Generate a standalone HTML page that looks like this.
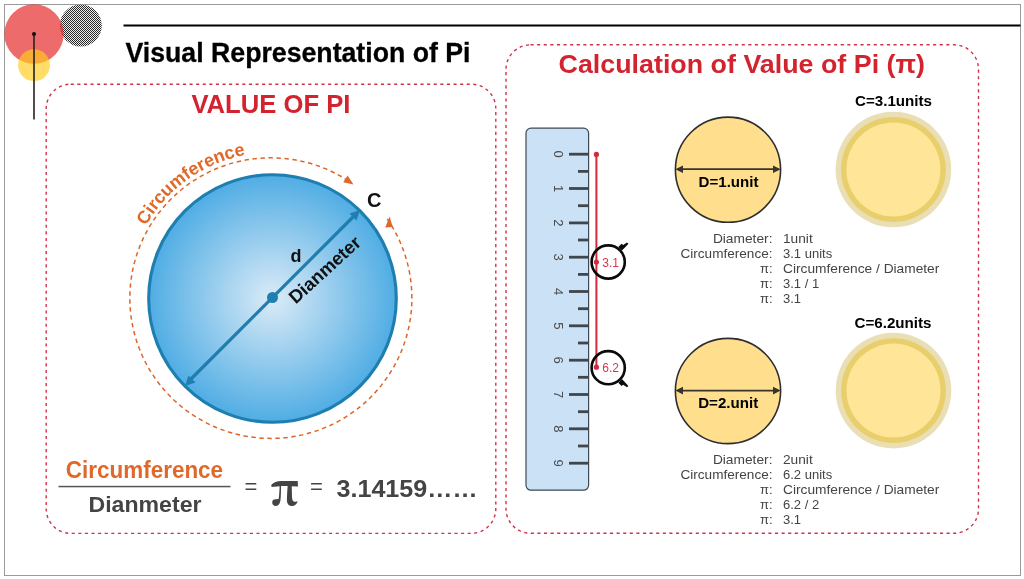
<!DOCTYPE html>
<html lang="en">
<head>
<meta charset="utf-8">
<title>Visual Representation of Pi</title>
<style>
html,body{margin:0;padding:0;background:#fff;}
body{width:1024px;height:579px;overflow:hidden;font-family:"Liberation Sans",sans-serif;}
svg{display:block;}
.b{font-family:"Liberation Sans",sans-serif;font-weight:bold;}
.r{font-family:"Liberation Sans",sans-serif;font-weight:normal;}
</style>
</head>
<body>
<svg width="1024" height="579" viewBox="0 0 1024 579">
<defs>
<pattern id="hatch" width="2" height="2" patternUnits="userSpaceOnUse">
<rect x="0" y="0" width="2" height="2" fill="#ececec"/>
<rect x="0" y="0" width="1" height="1" fill="#2a2a2a"/>
<rect x="1" y="1" width="1" height="1" fill="#2a2a2a"/>
</pattern>
<radialGradient id="blue" cx="50%" cy="50%" r="50%">
<stop offset="0" stop-color="#dbebf7"/>
<stop offset="1" stop-color="#50ade4"/>
</radialGradient>
</defs>
<rect x="0" y="0" width="1024" height="579" fill="#ffffff"/>
<rect x="4.5" y="4.5" width="1016" height="571" fill="none" stroke="#9a9a9a" stroke-width="1"/>

<!-- header decoration -->
<circle cx="80.8" cy="25.5" r="21" fill="url(#hatch)"/>
<circle cx="34" cy="34" r="29.7" fill="#e83232" fill-opacity="0.72"/>
<circle cx="34" cy="65.2" r="15.9" fill="#ffcd1e" fill-opacity="0.68"/>
<line x1="34" y1="34" x2="34" y2="119.5" stroke="#222" stroke-width="1.6"/>
<circle cx="34" cy="34" r="2" fill="#111"/>
<rect x="123.5" y="24.5" width="897" height="2" fill="#000"/>
<text class="b" x="125.5" y="61.6" font-size="27" fill="#000" stroke="#000" stroke-width="0.3" textLength="345" lengthAdjust="spacingAndGlyphs">Visual Representation of Pi</text>

<!-- left panel -->
<rect x="46.2" y="84.2" width="449.6" height="449.2" rx="24.5" ry="24.5" fill="none" stroke="#cf3348" stroke-width="1.4" stroke-dasharray="3.1 3.5"/>
<text class="b" x="191.4" y="113.2" font-size="25.6" fill="#d3232e" textLength="159" lengthAdjust="spacingAndGlyphs">VALUE OF PI</text>

<!-- big circle -->
<circle cx="272.5" cy="298.5" r="123.8" fill="url(#blue)" stroke="#1e7eaf" stroke-width="3.1"/>
<!-- dashed orbit -->
<path id="orbit" d="M 387.3 219.0 A 141 140.3 0 1 1 351.1 182.75" fill="none" stroke="#dc6628" stroke-width="1.5" stroke-dasharray="4.4 3.6"/>
<polygon points="353.5,184.6 343.2,182.2 347.6,175.6" fill="#e0692a"/>
<polygon points="389.6,216.6 392.8,227.0 385.2,227.6" fill="#e0692a"/>
<path id="circpath" d="M 145.8 225.9 A 146 146 0 0 1 272.5 152.5" fill="none"/>
<text class="b" font-size="18" fill="#e0692a"><textPath href="#circpath" startOffset="0">Circumference</textPath></text>

<!-- diameter -->
<line x1="191" y1="379" x2="354" y2="216" stroke="#1e7eaf" stroke-width="3.2"/>
<polygon points="360,210 349.5,213.5 356.5,220.5" fill="#1f7fb0"/>
<polygon points="185,386 195.5,382.5 188.5,375.5" fill="#1f7fb0"/>
<circle cx="272.5" cy="297.5" r="5.5" fill="#1f7fb0"/>
<text class="b" x="367" y="207.3" font-size="20" fill="#111">C</text>
<text class="b" x="290.5" y="261.7" font-size="18" fill="#111">d</text>
<text class="b" transform="translate(295.7,304.6) rotate(-42.3)" x="0" y="0" font-size="18.4" fill="#111">Dianmeter</text>

<!-- formula -->
<text class="b" x="65.8" y="478" font-size="23" fill="#e0692a" textLength="157.3" lengthAdjust="spacingAndGlyphs">Circumference</text>
<rect x="58.5" y="485.8" width="172" height="1.5" fill="#555"/>
<text class="b" x="88.5" y="511.6" font-size="21.8" fill="#444" textLength="113" lengthAdjust="spacingAndGlyphs">Dianmeter</text>
<text class="r" x="244.5" y="494" font-size="22" fill="#444">=</text>
<text transform="translate(270.5,504.9) scale(0.943,1)" x="0" y="0" font-size="43.7" fill="#444" font-family="'Noto Serif CJK SC','Liberation Serif',serif" font-weight="900">π</text>
<text class="r" x="310" y="494" font-size="22" fill="#444">=</text>
<text class="b" x="336.5" y="496.8" font-size="24" fill="#444" textLength="141" lengthAdjust="spacingAndGlyphs">3.14159……</text>

<!-- right panel -->
<rect x="506" y="44.8" width="472.5" height="488.5" rx="24.5" ry="24.5" fill="none" stroke="#cf3348" stroke-width="1.4" stroke-dasharray="3.1 3.5"/>
<text class="b" x="558.5" y="73.3" font-size="25.9" fill="#d3232e" textLength="366.5" lengthAdjust="spacingAndGlyphs">Calculation of Value of Pi (π)</text>

<!-- ruler -->
<rect x="526" y="128.2" width="62.6" height="362" rx="5" ry="5" fill="#cbe2f6" stroke="#3e4852" stroke-width="1.2"/>
<g stroke="#40464c" stroke-width="2.8">
<line x1="569" y1="154.2" x2="589" y2="154.2"/>
<line x1="578" y1="171.4" x2="589" y2="171.4"/>
<line x1="569" y1="188.5" x2="589" y2="188.5"/>
<line x1="578" y1="205.7" x2="589" y2="205.7"/>
<line x1="569" y1="222.9" x2="589" y2="222.9"/>
<line x1="578" y1="240.0" x2="589" y2="240.0"/>
<line x1="569" y1="257.2" x2="589" y2="257.2"/>
<line x1="578" y1="274.4" x2="589" y2="274.4"/>
<line x1="569" y1="291.5" x2="589" y2="291.5"/>
<line x1="578" y1="308.7" x2="589" y2="308.7"/>
<line x1="569" y1="325.8" x2="589" y2="325.8"/>
<line x1="578" y1="343.0" x2="589" y2="343.0"/>
<line x1="569" y1="360.2" x2="589" y2="360.2"/>
<line x1="578" y1="377.3" x2="589" y2="377.3"/>
<line x1="569" y1="394.5" x2="589" y2="394.5"/>
<line x1="578" y1="411.7" x2="589" y2="411.7"/>
<line x1="569" y1="428.8" x2="589" y2="428.8"/>
<line x1="578" y1="446.0" x2="589" y2="446.0"/>
<line x1="569" y1="463.2" x2="589" y2="463.2"/>
</g>
<g class="r" font-size="13" fill="#4a4a4a">
<text transform="translate(553.6,154.2) rotate(90)" text-anchor="middle">0</text>
<text transform="translate(553.6,188.5) rotate(90)" text-anchor="middle">1</text>
<text transform="translate(553.6,222.9) rotate(90)" text-anchor="middle">2</text>
<text transform="translate(553.6,257.2) rotate(90)" text-anchor="middle">3</text>
<text transform="translate(553.6,291.5) rotate(90)" text-anchor="middle">4</text>
<text transform="translate(553.6,325.8) rotate(90)" text-anchor="middle">5</text>
<text transform="translate(553.6,360.2) rotate(90)" text-anchor="middle">6</text>
<text transform="translate(553.6,394.5) rotate(90)" text-anchor="middle">7</text>
<text transform="translate(553.6,428.8) rotate(90)" text-anchor="middle">8</text>
<text transform="translate(553.6,463.2) rotate(90)" text-anchor="middle">9</text>
</g>
<!-- red measure line -->
<line x1="596.4" y1="154.2" x2="596.4" y2="367" stroke="#d42a3c" stroke-width="2"/>
<circle cx="596.4" cy="154.4" r="2.6" fill="#d42a3c"/>
<circle cx="596.4" cy="262" r="2.6" fill="#d42a3c"/>
<circle cx="596.4" cy="367.2" r="2.6" fill="#d42a3c"/>
<!-- magnifiers -->
<circle cx="608.2" cy="262" r="16.6" fill="none" stroke="#0a0a0a" stroke-width="2.6"/>
<polygon points="618.3,247.0 621.9,250.6 625.2,247.3 628.4,243.8 627.0,242.4 623.2,245.0 621.6,243.7" fill="#0a0a0a"/>
<text class="r" x="602.3" y="266.6" font-size="12" fill="#d8364a">3.1</text>
<circle cx="608.2" cy="367.7" r="16.6" fill="none" stroke="#0a0a0a" stroke-width="2.6"/>
<polygon points="618.3,382.7 621.9,379.1 625.2,382.4 628.4,385.9 627.0,387.3 623.2,384.7 621.6,386.0" fill="#0a0a0a"/>
<text class="r" x="602.3" y="372.3" font-size="12" fill="#d8364a">6.2</text>

<!-- circles group 1 -->
<circle cx="728" cy="169.7" r="52.6" fill="#ffde8e" stroke="#2e2e2e" stroke-width="1.6"/>
<line x1="681" y1="169.2" x2="775" y2="169.2" stroke="#38342c" stroke-width="1.7"/>
<polygon points="675.3,169.2 683,165.4 683,173" fill="#38342c"/>
<polygon points="780.7,169.2 773,165.4 773,173" fill="#38342c"/>
<text class="b" x="698.5" y="186.6" font-size="15" fill="#000" textLength="60" lengthAdjust="spacingAndGlyphs">D=1.unit</text>
<circle cx="893.4" cy="169.5" r="57.8" fill="#eadeb5"/>
<circle cx="893.4" cy="169.5" r="52.4" fill="#e8cf6c"/>
<circle cx="893.4" cy="169.5" r="47" fill="#ffe598"/>
<text class="b" x="855" y="105.9" font-size="15" fill="#000" textLength="77" lengthAdjust="spacingAndGlyphs">C=3.1units</text>

<g class="r" font-size="13" fill="#444">
<text x="772.5" y="242.9" text-anchor="end" textLength="59.6" lengthAdjust="spacingAndGlyphs">Diameter:</text>
<text x="772.5" y="258.0" text-anchor="end" textLength="92" lengthAdjust="spacingAndGlyphs">Circumference:</text>
<text x="772.5" y="272.9" text-anchor="end">π:</text>
<text x="772.5" y="287.9" text-anchor="end">π:</text>
<text x="772.5" y="302.9" text-anchor="end">π:</text>
<text x="783" y="242.9" textLength="29.7" lengthAdjust="spacingAndGlyphs">1unit</text>
<text x="783" y="258.0">3.1 units</text>
<text x="783" y="272.9" textLength="156.3" lengthAdjust="spacingAndGlyphs">Circumference / Diameter</text>
<text x="783" y="287.9">3.1 / 1</text>
<text x="783" y="302.9">3.1</text>
</g>

<!-- circles group 2 -->
<circle cx="728" cy="391" r="52.6" fill="#ffde8e" stroke="#2e2e2e" stroke-width="1.6"/>
<line x1="681" y1="390.6" x2="775" y2="390.6" stroke="#38342c" stroke-width="1.7"/>
<polygon points="675.3,390.6 683,386.8 683,394.4" fill="#38342c"/>
<polygon points="780.7,390.6 773,386.8 773,394.4" fill="#38342c"/>
<text class="b" x="698.2" y="408.4" font-size="15" fill="#000" textLength="60" lengthAdjust="spacingAndGlyphs">D=2.unit</text>
<circle cx="893.5" cy="390.6" r="57.8" fill="#eadeb5"/>
<circle cx="893.5" cy="390.6" r="52.4" fill="#e8cf6c"/>
<circle cx="893.5" cy="390.6" r="47" fill="#ffe598"/>
<text class="b" x="854.5" y="327.5" font-size="15" fill="#000" textLength="77" lengthAdjust="spacingAndGlyphs">C=6.2units</text>

<g class="r" font-size="13" fill="#444">
<text x="772.5" y="464.0" text-anchor="end" textLength="59.6" lengthAdjust="spacingAndGlyphs">Diameter:</text>
<text x="772.5" y="479.1" text-anchor="end" textLength="92" lengthAdjust="spacingAndGlyphs">Circumference:</text>
<text x="772.5" y="494.1" text-anchor="end">π:</text>
<text x="772.5" y="509.1" text-anchor="end">π:</text>
<text x="772.5" y="524.2" text-anchor="end">π:</text>
<text x="783" y="464.0" textLength="29.7" lengthAdjust="spacingAndGlyphs">2unit</text>
<text x="783" y="479.1">6.2 units</text>
<text x="783" y="494.1" textLength="156.3" lengthAdjust="spacingAndGlyphs">Circumference / Diameter</text>
<text x="783" y="509.1">6.2 / 2</text>
<text x="783" y="524.2">3.1</text>
</g>
</svg>
</body>
</html>
